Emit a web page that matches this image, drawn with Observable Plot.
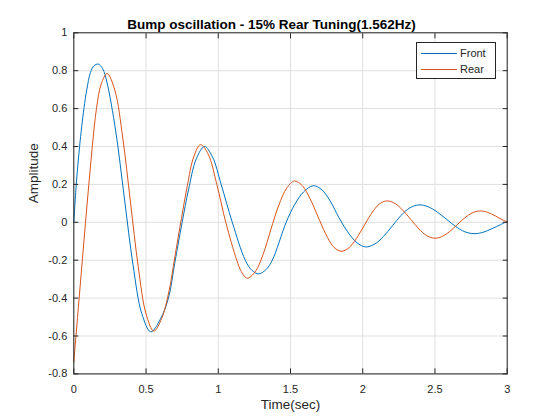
<!DOCTYPE html>
<html>
<head>
<meta charset="utf-8">
<script src="https://cdn.jsdelivr.net/npm/d3@7"></script>
<script src="https://cdn.jsdelivr.net/npm/@observablehq/plot@0.6"></script>
<style>
html,body{margin:0;padding:0;background:#fff;}
#wrap{position:relative;width:560px;height:420px;overflow:hidden;font-family:"Liberation Sans",Arial,sans-serif;}
#legend{position:absolute;left:416px;top:42px;}
</style>
</head>
<body>
<div id="wrap"><div id="chart"></div><div id="legend"></div></div>
<script>
// ---- data ----
const chartTitle = "Bump oscillation - 15% Rear Tuning(1.562Hz)";
const xLabel = "Time(sec)";
const yLabel = "Amplitude";
const seriesNames = ["Front", "Rear"];
const seriesColors = ["#0072BD", "#D95319"];
const xTicks = [0, 0.5, 1, 1.5, 2, 2.5, 3];
const yTicks = [-0.8, -0.6, -0.4, -0.2, 0, 0.2, 0.4, 0.6, 0.8, 1];

const frontTime = [0, 0.017, 0.040, 0.070, 0.090, 0.115, 0.140, 0.169, 0.200, 0.229, 0.290, 0.350, 0.410, 0.471, 0.533,
  0.600, 0.655, 0.700, 0.750, 0.795, 0.848, 0.905, 0.960, 1.020, 1.097, 1.187, 1.235, 1.281, 1.330, 1.374, 1.470,
  1.530, 1.590, 1.658, 1.718, 1.775, 1.835, 1.895, 1.960, 2.020, 2.082, 2.143, 2.205, 2.266, 2.328, 2.389, 2.453,
  2.516, 2.580, 2.643, 2.707, 2.770, 2.832, 2.893, 2.955, 3.000];
const frontAmp = [0, 0.2, 0.4, 0.6, 0.7, 0.79, 0.826, 0.835, 0.81, 0.74, 0.482, 0.128, -0.225, -0.483, -0.578,
  -0.51, -0.40, -0.21, 0, 0.175, 0.335, 0.40, 0.345, 0.2, 0, -0.2, -0.255, -0.272, -0.25, -0.2, 0,
  0.095, 0.16, 0.193, 0.171, 0.112, 0.025, -0.05, -0.108, -0.13, -0.115, -0.075, -0.019, 0.037, 0.077, 0.092, 0.082,
  0.054, 0.016, -0.022, -0.05, -0.06, -0.053, -0.034, -0.012, 0.005];

const rearTime = [0, 0.015, 0.037, 0.059, 0.081, 0.104, 0.128, 0.157, 0.190, 0.231, 0.285, 0.339, 0.3925, 0.446, 0.500,
  0.554, 0.608, 0.660, 0.700, 0.745, 0.785, 0.830, 0.877, 0.930, 0.990, 1.052, 1.128, 1.160, 1.200, 1.255, 1.310,
  1.364, 1.419, 1.475, 1.528, 1.582, 1.635, 1.689, 1.743, 1.796, 1.850, 1.903, 1.955, 2.008, 2.061, 2.113, 2.166,
  2.222, 2.277, 2.333, 2.389, 2.444, 2.500, 2.552, 2.603, 2.655, 2.707, 2.758, 2.810, 2.863, 2.917, 2.970, 3.000];
const rearAmp = [-0.738, -0.6, -0.4, -0.2, 0, 0.2, 0.4, 0.6, 0.73, 0.785, 0.694, 0.445, 0.105, -0.234, -0.483,
  -0.574, -0.508, -0.36, -0.18, 0.02, 0.19, 0.345, 0.41, 0.36, 0.2, 0, -0.2, -0.26, -0.295, -0.262, -0.17,
  -0.038, 0.09, 0.182, 0.218, 0.193, 0.125, 0.032, -0.06, -0.128, -0.153, -0.135, -0.087, -0.02, 0.047, 0.095, 0.113,
  0.1, 0.064, 0.015, -0.035, -0.071, -0.084, -0.074, -0.048, -0.012, 0.024, 0.05, 0.06, 0.053, 0.034, 0.012, 0.003];

// ---- build tables ----
const front = frontTime.map((t, i) => ({t, v: frontAmp[i], s: seriesNames[0]}));
const rear = rearTime.map((t, i) => ({t, v: rearAmp[i], s: seriesNames[1]}));

const axisColor = "#262626";
const gridColor = "#dfdfdf";
const fmt = d => String(+d.toFixed(2));

const chart = Plot.plot({
  width: 560,
  height: 420,
  marginLeft: 73.3,
  marginRight: 53.3,
  marginTop: 32.3,
  marginBottom: 46.6,
  style: {fontFamily: '"Liberation Sans", Arial, sans-serif', fontSize: "11px", color: axisColor, background: "#fff", overflow: "visible"},
  x: {domain: [0, 3]},
  y: {domain: [-0.8, 1]},
  marks: [
    Plot.gridX(xTicks, {stroke: gridColor, strokeOpacity: 1}),
    Plot.gridY(yTicks, {stroke: gridColor, strokeOpacity: 1}),
    Plot.line(front, {x: "t", y: "v", stroke: seriesColors[0], strokeWidth: 1, curve: "catmull-rom"}),
    Plot.line(rear, {x: "t", y: "v", stroke: seriesColors[1], strokeWidth: 1, curve: "catmull-rom"}),
    Plot.frame({stroke: axisColor, strokeWidth: 1}),
    Plot.axisX(xTicks, {anchor: "bottom", tickSize: -5, tickPadding: 16, tickFormat: fmt, label: null, stroke: axisColor, fill: axisColor}),
    Plot.axisX(xTicks, {anchor: "top", tickSize: -5, tickFormat: () => "", label: null, stroke: axisColor}),
    Plot.axisY(yTicks, {anchor: "left", tickSize: -5, tickPadding: 11.5, tickFormat: fmt, label: null, stroke: axisColor, fill: axisColor}),
    Plot.axisY(yTicks, {anchor: "right", tickSize: -5, tickFormat: () => "", label: null, stroke: axisColor}),
    Plot.text([chartTitle], {frameAnchor: "top", dx: -19, dy: -13.5, fontWeight: "bold", fontSize: 13.5, fill: "#000"}),
    Plot.text([xLabel], {frameAnchor: "bottom", dy: 35, fontSize: 13.5, fill: axisColor}),
    Plot.text([yLabel], {frameAnchor: "left", dx: -40, rotate: -90, fontSize: 13.5, fill: axisColor})
  ]
});
document.getElementById("chart").appendChild(chart);

// ---- legend (small svg box) ----
const lw = 80, lh = 37;
const svg = d3.select("#legend").append("svg").attr("width", lw).attr("height", lh);
svg.append("rect").attr("x", 0.5).attr("y", 0.5).attr("width", lw - 1).attr("height", lh - 1)
  .attr("fill", "#fff").attr("stroke", axisColor);
seriesNames.forEach((name, i) => {
  const cy = 11.5 + i * 16;
  svg.append("line").attr("x1", 5).attr("x2", 41).attr("y1", cy).attr("y2", cy)
    .attr("stroke", seriesColors[i]).attr("stroke-width", 1);
  svg.append("text").attr("x", 44).attr("y", cy).attr("dy", "0.35em")
    .attr("font-size", 11).attr("fill", axisColor)
    .attr("font-family", '"Liberation Sans", Arial, sans-serif').text(name);
});
</script>
</body>
</html>
